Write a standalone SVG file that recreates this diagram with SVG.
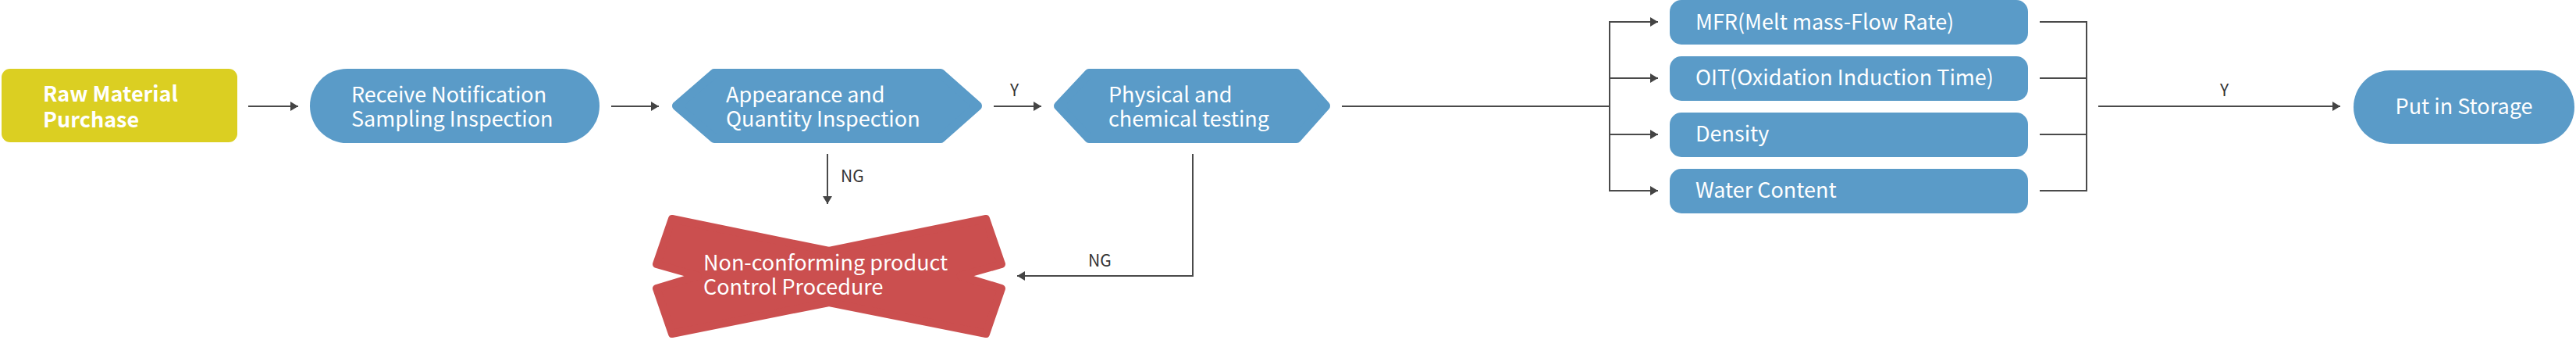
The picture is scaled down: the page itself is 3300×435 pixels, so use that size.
<svg xmlns="http://www.w3.org/2000/svg" width="3300" height="435" viewBox="0 0 3300 435">
<defs>
<marker id="arr" markerUnits="userSpaceOnUse" markerWidth="11" markerHeight="12" refX="10" refY="6" orient="auto">
<path d="M0,0 L10,6 L0,12 z" fill="#444"/>
</marker>
<style>
.t{font-family:"Noto Sans CJK SC","Noto Sans",sans-serif;font-size:27px;fill:#fff}
.b{font-weight:bold}
.lbl{font-family:"Noto Sans CJK SC","Noto Sans",sans-serif;font-size:21px;fill:#333}
.blue{fill:#5A9BC8}
.hex{fill:#5A9BC8;stroke:#5A9BC8;stroke-width:12;stroke-linejoin:round}
.ln{fill:none;stroke:#4a4a4a;stroke-width:2}
.ar{marker-end:url(#arr)}
</style>
</defs>
<rect width="3300" height="435" fill="#fff"/>
<g id="connectors">
<line class="ln ar" x1="318" y1="136" x2="382" y2="136"/>
<line class="ln ar" x1="783" y1="136" x2="844" y2="136"/>
<line class="ln ar" x1="1273" y1="136" x2="1334" y2="136"/>
<text class="lbl" x="1294" y="123">Y</text>
<line class="ln ar" x1="1060" y1="197" x2="1060" y2="261"/>
<text class="lbl" x="1077" y="233">NG</text>
<polyline class="ln ar" points="1528,197 1528,353 1303,353"/>
<text class="lbl" x="1394" y="341">NG</text>
<line class="ln" x1="1719" y1="136" x2="2062" y2="136"/>
<line class="ln" x1="2062" y1="27" x2="2062" y2="245"/>
<line class="ln ar" x1="2061" y1="28" x2="2124" y2="28"/>
<line class="ln ar" x1="2061" y1="100" x2="2124" y2="100"/>
<line class="ln ar" x1="2061" y1="172" x2="2124" y2="172"/>
<line class="ln ar" x1="2061" y1="244" x2="2124" y2="244"/>
<line class="ln" x1="2613" y1="28" x2="2674" y2="28"/>
<line class="ln" x1="2613" y1="100" x2="2674" y2="100"/>
<line class="ln" x1="2613" y1="172" x2="2674" y2="172"/>
<line class="ln" x1="2613" y1="244" x2="2674" y2="244"/>
<line class="ln" x1="2673" y1="27" x2="2673" y2="245"/>
<line class="ln ar" x1="2688" y1="136" x2="2998" y2="136"/>
<text class="lbl" x="2844" y="123">Y</text>
</g>
<g id="raw-material">
<rect x="2" y="88" width="302" height="94" rx="11" fill="#DBCF22"/>
<text class="t b" x="55" y="130">Raw Material</text>
<text class="t b" x="55" y="163">Purchase</text>
</g>
<g id="receive">
<rect class="blue" x="397" y="88" width="371" height="95" rx="47.5"/>
<text class="t" x="450" y="131">Receive Notification</text>
<text class="t" x="450" y="162">Sampling Inspection</text>
</g>
<g id="appearance">
<polygon class="hex" points="867,135.5 915,94 1205,94 1252,135.5 1205,177 915,177"/>
<text class="t" x="930" y="131">Appearance and</text>
<text class="t" x="930" y="162">Quantity Inspection</text>
</g>
<g id="physical">
<polygon class="hex" points="1356,135.5 1395,94 1661,94 1698,135.5 1661,177 1395,177"/>
<text class="t" x="1420" y="131">Physical and</text>
<text class="t" x="1420" y="162">chemical testing</text>
</g>
<g id="nonconforming">
<polygon points="861,280 1062,321 1263,280 1283,338 1230,353 1283,369 1263,427 1062,387 861,427 841,369 894,353 841,338" fill="#CB4F4F" stroke="#CB4F4F" stroke-width="10" stroke-linejoin="round"/>
<text class="t" x="901" y="346">Non-conforming product</text>
<text class="t" x="901" y="377">Control Procedure</text>
</g>
<g id="mfr">
<rect class="blue" x="2139" y="0" width="459" height="57" rx="15"/>
<text class="t" x="2172" y="38">MFR(Melt mass-Flow Rate)</text>
</g>
<g id="oit">
<rect class="blue" x="2139" y="72" width="459" height="57" rx="15"/>
<text class="t" x="2172" y="109">OIT(Oxidation Induction Time)</text>
</g>
<g id="density">
<rect class="blue" x="2139" y="144" width="459" height="57" rx="15"/>
<text class="t" x="2172" y="181">Density</text>
</g>
<g id="water">
<rect class="blue" x="2139" y="216" width="459" height="57" rx="15"/>
<text class="t" x="2172" y="253">Water Content</text>
</g>
<g id="storage">
<rect class="blue" x="3015" y="90" width="283" height="94" rx="47"/>
<text class="t" x="3156.5" y="146" text-anchor="middle">Put in Storage</text>
</g>
</svg>
